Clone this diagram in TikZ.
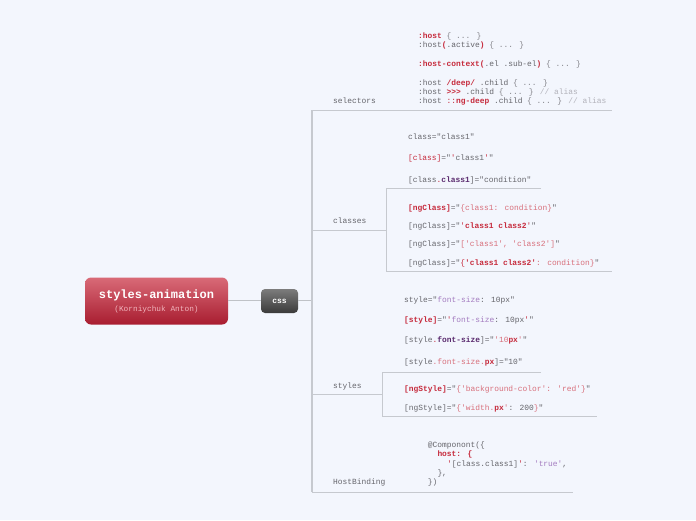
\documentclass[tikz,border=0pt]{standalone}
\usepackage{fontspec}
\newfontfamily\mono{Liberation Mono}
\usepackage{xcolor}
\definecolor{bgc}{HTML}{F3F6FD}
\definecolor{cgray}{HTML}{66666C}
\definecolor{clight}{HTML}{84848A}
\definecolor{cred}{HTML}{C62A3C}
\definecolor{cstr}{HTML}{D8707C}
\definecolor{cpur}{HTML}{5A2A6E}
\definecolor{clpur}{HTML}{A47CC0}
\definecolor{ccom}{HTML}{B2B2BA}
\definecolor{cline}{HTML}{C6C9CF}
\definecolor{rootA}{HTML}{D96A77}
\definecolor{rootB}{HTML}{A81D30}
\definecolor{cssA}{HTML}{7C7C7C}
\definecolor{cssB}{HTML}{3A3A3A}
\definecolor{subc}{HTML}{F2B6BE}
\newcommand\sq{\char39\relax}
\newcommand\dq{\char34\relax}
\newcommand\kred[1]{\textcolor{cred}{\bfseries #1}}
\newcommand\kredn[1]{\textcolor{cred}{#1}}
\newcommand\kstr[1]{\textcolor{cstr}{#1}}
\newcommand\kpur[1]{\textcolor{cpur}{\bfseries #1}}
\newcommand\klpur[1]{\textcolor{clpur}{#1}}
\newcommand\kcom[1]{\textcolor{ccom}{#1}}
\newcommand\klt[1]{\textcolor{clight}{#1}}
\tikzset{
  code/.style={anchor=base west, inner sep=0pt, font=\mono\fontsize{7.9}{9}\selectfont, text=cgray},
  conn/.style={draw=cline, line width=0.9pt},
  thick conn/.style={draw=cline!90!gray, line width=1.6pt},
  rootbox/.style={rounded corners=6pt, top color=rootA, bottom color=rootB, minimum width=143pt, minimum height=47pt, inner sep=0pt},
  cssbox/.style={rounded corners=4pt, top color=cssA, bottom color=cssB, minimum width=37pt, minimum height=24pt, inner sep=0pt, text=white, font=\mono\bfseries\fontsize{8}{9}\selectfont},
}
\begin{document}
\begin{tikzpicture}[x=1pt,y=-1pt]
\fill[bgc] (0,0) rectangle (696,520);
\useasboundingbox (0,0) rectangle (696,520);

% central nodes
\node[rootbox] (root) at (156.5,301) {};
\node[anchor=base, inner sep=0pt, text=white, font=\mono\bfseries\fontsize{12}{14}\selectfont] (title) at (156.5,298.5) {styles-animation};
\node[anchor=base, inner sep=0pt, text=subc, font=\mono\fontsize{7.8}{9}\selectfont] (author) at (156.5,311) {(Korniychuk Anton)};
\node[cssbox] (css) at (279.5,301) {css};

% coordinates
\coordinate (jx) at (312,300.5);
\coordinate (selL) at (312,110);
\coordinate (selR) at (612,110);
\coordinate (clsL) at (312,230.5);
\coordinate (clsJ) at (386,230.5);
\coordinate (cg1L) at (386,188.5);
\coordinate (cg1R) at (541,188.5);
\coordinate (cg2L) at (386,271);
\coordinate (cg2R) at (612,271);
\coordinate (stL) at (312,394);
\coordinate (stJ) at (382,394);
\coordinate (sg1L) at (382,372);
\coordinate (sg1R) at (541,372);
\coordinate (sg2L) at (382,416.5);
\coordinate (sg2R) at (597,416.5);
\coordinate (hbL) at (312,492);
\coordinate (hbR) at (573,492);

% connectors
\draw[thick conn] (root.east |- jx) -- (css.west |- jx);
\draw[thick conn] (css.east |- jx) -- (jx);
\draw[conn, line width=1.1pt] (selL) -- (hbL);
\draw[conn] (selL) -- (selR);
\draw[conn] (clsL) -- (clsJ);
\draw[conn] (cg1R) -- (cg1L) -- (cg2L) -- (cg2R);
\draw[conn] (stL) -- (stJ);
\draw[conn] (sg1R) -- (sg1L) -- (sg2L) -- (sg2R);
\draw[conn] (hbL) -- (hbR);

% branch labels
\node[code] (lsel) at (333,103.7) {selectors};
\node[code] (lcls) at (333,223.7) {classes};
\node[code] (lsty) at (333,388.2) {styles};
\node[code] (lhb) at (333,484.5) {HostBinding};

% selectors
\node[code] (s1) at (418,38.5) {\kred{:host} \klt{\{ ... \}}};
\node[code] (s2) at (418,47.8) {:host\kred{(}.active\kred{)} \klt{\{ ... \}}};
\node[code] (s3) at (418,66.5) {\kred{:host-context(}.el .sub-el\kred{)} \klt{\{ ... \}}};
\node[code] (s4) at (418,85.2) {:host \kred{/deep/} .child \klt{\{ ... \}}};
\node[code] (s5) at (418,94.2) {:host \kred{>{}>{}>} .child \klt{\{ ... \}} \kcom{// alias}};
\node[code] (s6) at (418,103.2) {:host \kredn{::}\kred{ng-deep} .child \klt{\{ ... \}} \kcom{// alias}};

% classes
\node[code] (c1) at (408,139.8) {class=\dq class1\dq};
\node[code] (c2) at (408,160.2) {\kredn{[class]}=\dq\kredn{\sq}class1\kredn{\sq}\dq};
\node[code] (c3) at (408,182.5) {[class\kredn{.}\kpur{class1}]=\dq condition\dq};
\node[code] (c4) at (408,210.2) {\kred{[ngClass]}=\dq\kstr{\{class1: condition\}}\dq};
\node[code] (c5) at (408,228.5) {[ngClass]=\dq\kredn{\sq}\kred{class1 class2}\kredn{\sq}\dq};
\node[code] (c6) at (408,246.8) {[ngClass]=\dq\kstr{[\sq class1\sq, \sq class2\sq]}\dq};
\node[code] (c7) at (408,265.8) {[ngClass]=\dq\kredn{\{}\kred{\sq class1 class2\sq}\kstr{: condition\}}\dq};

% styles
\node[code] (t1) at (404,302.5) {style=\dq\klpur{font-size}: 10px\dq};
\node[code] (t2) at (404,322.5) {\kred{[style]}=\dq\kredn{\sq}\klpur{font-size}: 10px\kredn{\sq}\dq};
\node[code] (t3) at (404,342.5) {[style\kredn{.}\kpur{font-size}]=\dq\kstr{\sq 10}\kred{px}\kstr{\sq}\dq};
\node[code] (t4) at (404,364.8) {[style\kstr{.font-size.}\kred{px}]=\dq 10\dq};
\node[code] (t5) at (404,391.8) {\kred{[ngStyle]}=\dq\kstr{\{\sq background-color\sq: \sq red\sq\}}\dq};
\node[code] (t6) at (404,410.8) {[ngStyle]=\dq\kstr{\{\sq width.}\kred{px}\kstr{\sq}: 200\kstr{\}}\dq};

% host binding
\node[code] (h1) at (427.7,447.5) {@Componont(\{};
\node[code] (h2) at (437.3,456.8) {\kred{host: \{}};
\node[code] (h3) at (446.9,466.2) {\kredn{\sq}[class.class1]\kredn{\sq}: \klpur{\sq true\sq},};
\node[code] (h4) at (437.3,475.2) {\},};
\node[code] (h5) at (427.7,484.8) {\})};
\end{tikzpicture}
\end{document}
